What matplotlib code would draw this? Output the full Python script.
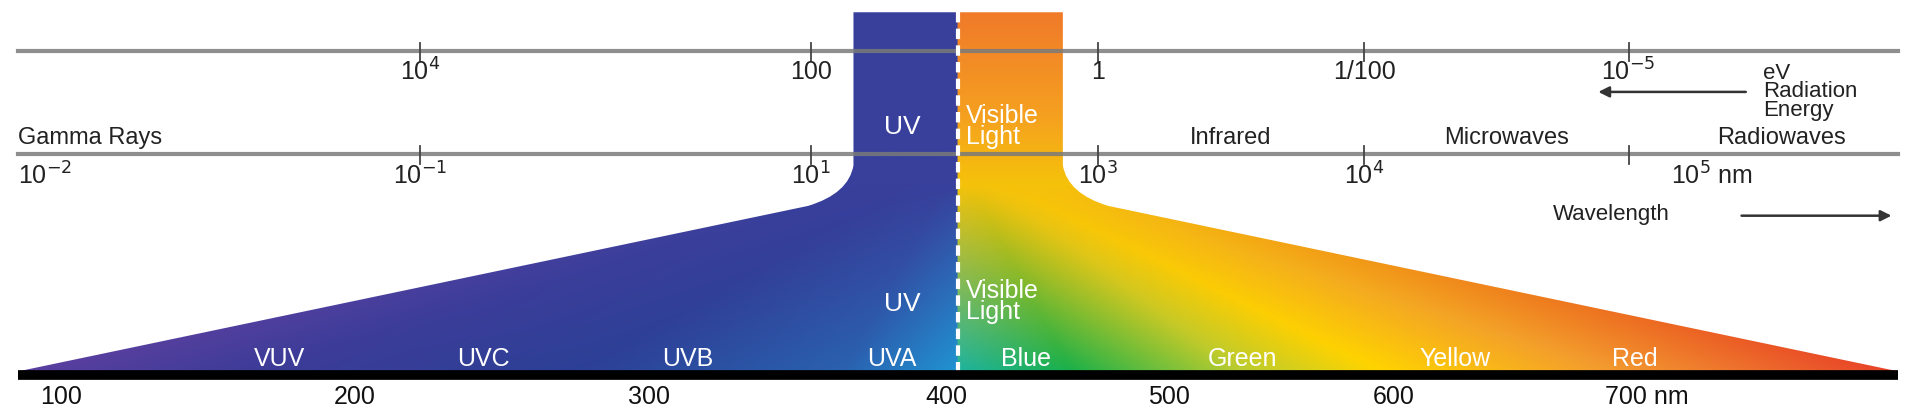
import numpy as np
import matplotlib
matplotlib.use("Agg")
import matplotlib.pyplot as plt
from matplotlib.path import Path
from matplotlib.patches import PathPatch, FancyArrowPatch

plt.rcParams['font.family'] = ['Liberation Sans Narrow', 'Liberation Sans', 'DejaVu Sans']

# ---- data ----
ev_labels = ['10$^{4}$', '100', '1', '1/100', '10$^{-5}$']
ev_pos = [343, 662, 897, 1114, 1330]
wl_labels = ['10$^{-2}$', '10$^{-1}$', '10$^{1}$', '10$^{3}$', '10$^{4}$', '10$^{5}$ nm']
wl_pos = [15, 343, 662, 897, 1114, 1365]
wl_ticks = [343, 662, 897, 1114, 1330]
region_labels = ['Gamma Rays', 'Infrared', 'Microwaves', 'Radiowaves']
region_pos = [15, 1005, 1230, 1455]
nm_labels = ['100', '200', '300', '400', '500', '600', '700 nm']
nm_pos = [50, 290, 530, 773, 955, 1138, 1345]
band_labels = ['VUV', 'UVC', 'UVB', 'UVA', 'Blue', 'Green', 'Yellow', 'Red']
band_pos = [228, 395, 562, 728, 838, 1015, 1188, 1335]

W, H = 1568, 337
fig = plt.figure(figsize=(19.2, 4.13), dpi=100)
ax = fig.add_axes([0, 0, 1, 1])
ax.set_xlim(0, W); ax.set_ylim(H, 0); ax.axis('off')

# ---- gradient image ----
yy, xx = np.mgrid[0:H, 0:W].astype(float) + 0.5
cx = 782.0
def interp(stops, t):
    t = np.clip(t, 0, 1)
    ps = np.array([s[0] for s in stops])
    cols = np.array([matplotlib.colors.to_rgb(s[1]) for s in stops])
    return np.stack([np.interp(t, ps, cols[:, i]) for i in range(3)], -1)
right_stops = [(0, '#1fb3a0'), (0.12, '#19b04a'), (0.3, '#b8cc30'), (0.45, '#ffd400'),
               (0.7, '#f39a30'), (1, '#e8412a')]
left_stops = [(0, '#2094d2'), (0.12, '#2a62b0'), (0.4, '#2c4096'), (0.75, '#3d3c98'), (1, '#5b3f9f')]
hw = 85 + (yy - 150) / 153 * 685
hw = np.maximum(hw, 85)
t = np.abs(xx - cx) / hw
s = np.clip((yy - 150) / 153, 0, 1)[..., None]
rc = interp(right_stops, t)
lc = interp(left_stops, t)
yellow = np.array(matplotlib.colors.to_rgb('#f6c20a'))
colblue = np.array(matplotlib.colors.to_rgb('#38409c'))
rimg = yellow * (1 - s) + rc * s
limg = colblue * (1 - s) + lc * s
tv = np.clip((yy - 10) / 140, 0, 1)
toprc = interp([(0, '#f07a2a'), (0.6, '#f5a020'), (1, '#f6c20a')], tv)
rimg = np.where((yy < 150)[..., None], toprc, rimg)
img = np.where((xx >= cx)[..., None], rimg, limg)

verts = [(697, 10), (868, 10), (868, 135), (872, 158), (905, 168), (1550, 303),
         (15, 303), (660, 168), (693, 158), (697, 135), (697, 10)]
codes = [Path.MOVETO, Path.LINETO, Path.LINETO, Path.CURVE3, Path.CURVE3, Path.LINETO,
         Path.LINETO, Path.LINETO, Path.CURVE3, Path.CURVE3, Path.CLOSEPOLY]
patch = PathPatch(Path(verts, codes), facecolor='none', edgecolor='none')
ax.add_patch(patch)
im = ax.imshow(img, extent=(0, W, H, 0), aspect='auto', zorder=1, interpolation='bilinear')
im.set_clip_path(patch)
ax.set_xlim(0, W); ax.set_ylim(H, 0)

ax.plot([782, 782], [10, 303], color='white', lw=3, ls=(0, (2.5, 1.5)), zorder=3)

for y in (42, 126):
    ax.plot([15, 1550], [y, y], color='#7a7a7a', lw=3, zorder=2, alpha=0.85)
for x in ev_pos:
    ax.plot([x, x], [35, 50], color='#444', lw=1.3, zorder=2)
for x in wl_ticks:
    ax.plot([x, x], [119, 134], color='#444', lw=1.3, zorder=2)

fs = 18
for lab, x in zip(ev_labels, ev_pos):
    ax.text(x, 59, lab, ha='center', va='center', fontsize=fs, color='#222', zorder=4)
for lab, x in zip(wl_labels, wl_pos):
    ax.text(x, 144, lab, ha='left' if (x < 30 or 'nm' in lab) else 'center',
            va='center', fontsize=fs, color='#222', zorder=4)
for lab, x in zip(region_labels, region_pos):
    ax.text(x, 113, lab, ha='left' if x < 30 else 'center', va='center', fontsize=fs - 1, color='#222', zorder=4)
ax.text(1440, 75, 'eV\nRadiation\nEnergy', ha='left', va='center', fontsize=fs - 2,
        color='#222', linespacing=0.85, zorder=4)
ax.add_patch(FancyArrowPatch((1428, 75), (1303, 75), arrowstyle='-|>', mutation_scale=16, color='#333', lw=1.8))
ax.text(1268, 175, 'Wavelength', ha='left', va='center', fontsize=fs - 2, color='#222')
ax.add_patch(FancyArrowPatch((1420, 176), (1547, 176), arrowstyle='-|>', mutation_scale=16, color='#333', lw=1.8))

ax.plot([15, 1550], [306, 306], color='black', lw=7, solid_capstyle='butt', zorder=3)
for lab, x in zip(nm_labels, nm_pos):
    ax.text(x, 324, lab, ha='center', va='center', fontsize=fs, color='#111', zorder=4)
for lab, x in zip(band_labels, band_pos):
    ax.text(x, 293, lab, ha='center', va='center', fontsize=fs, color='white', zorder=4)

for y in (104, 248):
    ax.text(737, y, 'UV', ha='center', va='center', fontsize=fs + 1, color='white', zorder=4)
for y in (103, 246):
    ax.text(789, y, 'Visible\nLight', ha='left', va='center', fontsize=fs, color='white',
            linespacing=0.85, zorder=4)

fig.savefig('out.png', dpi=100)
